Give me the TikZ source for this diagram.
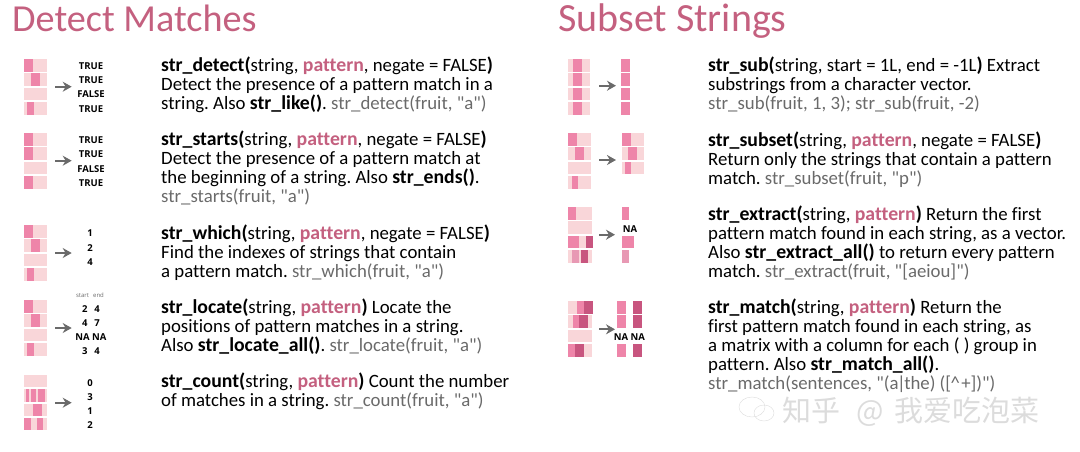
\documentclass[tikz,border=0pt]{standalone}
\usepackage{fontspec}
\usepackage{xcolor}
\newfontfamily\bodyfont{Carlito}[Ligatures=NoCommon,BoldFeatures={Scale=1.05}]
\newfontfamily\tagfont{Open Sans}
\newfontfamily\cjkfont{Noto Sans CJK SC}
\usetikzlibrary{shapes.geometric,arrows.meta}
\frenchspacing
\definecolor{titlepink}{HTML}{C4607F}
\definecolor{tilelight}{HTML}{F9D6D9}
\definecolor{tilepink}{HTML}{EE85A9}
\definecolor{tilemid}{HTML}{E899B4}
\definecolor{tiledark}{HTML}{C8557F}
\definecolor{exgray}{HTML}{6A6A6A}
\definecolor{markgray}{HTML}{DCDCDC}
\tikzset{
  heading/.style={anchor=base west,inner sep=0pt,text=titlepink},
  desc/.style={anchor=north west,align=left,inner sep=0pt,text=black,font=\bodyfont\fontsize{18.8}{19}\selectfont},
  tag/.style={inner sep=0pt,font=\tagfont\bfseries\fontsize{9.5}{9.5}\selectfont},
  taghead/.style={inner sep=0pt,text=exgray,font=\tagfont\fontsize{6}{6}\selectfont},
  flow/.style={-{Stealth[length=9pt,width=10pt]},draw=exgray,line width=2pt},
  bgtile/.style={fill=tilelight},
  hittile/.style={fill=tilepink},
  midtile/.style={fill=tilemid},
  darktile/.style={fill=tiledark}
}
\newcommand{\pat}{\textcolor{titlepink}{\textbf{pattern}}}
\newcommand{\ex}[1]{\textcolor{exgray}{#1}}
\newcommand{\tiles}[4][hittile]{\foreach \r/\a/\b in {#4} \fill[#1] (#2+\a,#3+14.4*\r) rectangle (#2+\b,#3+14.4*\r+12.5);}
\newcommand{\bgrows}[3]{\tiles[bgtile]{#1}{#2}{0/0/#3,1/0/#3,2/0/#3,3/0/#3}}

\begin{document}
\begin{tikzpicture}[x=1pt,y=-1pt,>=stealth]
    \useasboundingbox (0,0) rectangle (1080,451);

    \node[heading,font=\bodyfont\fontsize{38.2}{38}\selectfont] (detect) at (12,31) {Detect Matches};
    \node[heading,font=\bodyfont\fontsize{40}{40}\selectfont] (subset) at (558,31) {Subset Strings};

    % left tiles
    \bgrows{23.7}{59}{23.3}
    \tiles{23.7}{59}{0/0/9.3,1/7/16.3,3/3.6/10.3}
    \bgrows{23.7}{133}{23.3}
    \tiles{23.7}{133}{0/0/9.3,1/0/9.3,3/0/9.3}
    \bgrows{23.7}{225}{23.3}
    \tiles{23.7}{225}{0/0/9.3,1/7/16.3,3/3.6/10.3}
    \bgrows{23.7}{300}{23.3}
    \tiles{23.7}{300}{0/0/9.3,1/7/16.3,3/3.6/10.3}
    \bgrows{23.7}{374.7}{23.3}
    \tiles{23.7}{374.7}{1/2.3/5.6,1/7.6/12,1/14.3/21,2/9.3/18.3,3/0.3/7,3/13/19.7}

    % right tiles
    \bgrows{568.3}{59}{22}
    \tiles{568.3}{59}{0/4.7/14,1/4.7/14,2/4.7/14,3/4.7/14}
    \tiles{621.3}{59}{0/0/9,1/0/9,2/0/9,3/0/9}
    \bgrows{568.3}{133}{22.7}
    \tiles{568.3}{133}{0/0/9,1/7/16,3/3.7/9.7}
    \tiles[bgtile]{622}{133}{0/0/22,1/0/22,2/0/22}
    \tiles{622}{133}{0/0/9,1/6.3/15.3,2/3/9}
    \bgrows{568.3}{207}{24}
    \tiles{568.3}{207}{0/0/7.3,2/0/10.7}
    \tiles[midtile]{568.3}{207}{3/3.7/10.7}
    \tiles[darktile]{568.3}{207}{2/17.7/24.3,3/13/20}
    \tiles{621.7}{207}{0/0/7.3,2/0/12.3}
    \tiles[midtile]{621.7}{207}{3/0/7.3}
    \bgrows{568.3}{301}{24}
    \tiles{568.3}{301}{0/8.3/15.7,1/4.3/11,3/0/6.7}
    \tiles[darktile]{568.3}{301}{0/15.7/24.3,1/11/19.7,3/6.7/15.3}
    \tiles{616.7}{301}{0/0/9,1/0/9,3/0/9}
    \tiles[darktile]{632.7}{301}{0/0/9,1/0/9,3/0/9}

    % arrows
    \foreach \nm/\xa/\xb/\yy in {da/55/71.7/86.7,db/55/71.7/160.7,dc/55/71.7/253,dd/55/71.7/328,de/55/71.7/402.7,sa/599.3/616/85.7,sb/599.3/616/160,sc/599/615/234.7,sd/599/615/329.3}{
        \coordinate (\nm from) at (\xa,\yy);
        \coordinate (\nm to) at (\xb,\yy);
        \draw[flow] (\nm from) -- (\nm to);
    }

    % outputs
    \node[tag] (ta1) at (91,66) {TRUE};
    \node[tag] (ta2) at (91,80) {TRUE};
    \node[tag] (ta3) at (91,94.3) {FALSE};
    \node[tag] (ta4) at (91,109) {TRUE};
    \node[tag] (tb1) at (91,140) {TRUE};
    \node[tag] (tb2) at (91,154.3) {TRUE};
    \node[tag] (tb3) at (91,168.7) {FALSE};
    \node[tag] (tb4) at (91,183) {TRUE};
    \node[tag] (w1) at (90,233) {1};
    \node[tag] (w2) at (90,247.7) {2};
    \node[tag] (w3) at (90,262) {4};
    \node[taghead] (lstart) at (82.5,295.7) {start};
    \node[taghead] (lend) at (98.5,295.7) {end};
    \node[tag] (l1) at (91,309) {2\hspace{7pt}4};
    \node[tag] (l2) at (91,323) {4\hspace{7pt}7};
    \node[tag] (l3) at (91,337) {NA NA};
    \node[tag] (l4) at (91,350.7) {3\hspace{7pt}4};
    \node[tag] (c1) at (90,382.7) {0};
    \node[tag] (c2) at (90,397) {3};
    \node[tag] (c3) at (90,411) {1};
    \node[tag] (c4) at (90,425) {2};
    \node[tag] (ena) at (630,229) {NA};
    \node[tag] (mna) at (629.5,337) {NA NA};

    % descriptions
    \node[desc] (str1) at (161,57) {\textbf{str\_detect(}string, \pat, negate = FALSE\textbf{)}\\Detect the presence of a pattern match in a\\string. Also \textbf{str\_like()}. \ex{str\_detect(fruit, "a")}};
    \node[desc] (str2) at (161,131) {\textbf{str\_starts(}string, \pat, negate = FALSE\textbf{)}\\Detect the presence of a pattern match at\\the beginning of a string. Also \textbf{str\_ends()}.\\\ex{str\_starts(fruit, "a")}};
    \node[desc] (str3) at (161,225) {\textbf{str\_which(}string, \pat, negate = FALSE\textbf{)}\\Find the indexes of strings that contain\\a pattern match. \ex{str\_which(fruit, "a")}};
    \node[desc] (str4) at (161,299) {\textbf{str\_locate(}string, \pat\textbf{)} Locate the\\positions of pattern matches in a string.\\Also \textbf{str\_locate\_all()}. \ex{str\_locate(fruit, "a")}};
    \node[desc] (str5) at (161,373) {\textbf{str\_count(}string, \pat\textbf{)} Count the number\\of matches in a string. \ex{str\_count(fruit, "a")}};
    \node[desc] (sub1) at (708,57) {\textbf{str\_sub(}string, start = 1L, end = -1L\textbf{)} Extract\\substrings from a character vector.\\\ex{str\_sub(fruit, 1, 3); str\_sub(fruit, -2)}};
    \node[desc] (sub2) at (708,132) {\textbf{str\_subset(}string, \pat, negate = FALSE\textbf{)}\\Return only the strings that contain a pattern\\match. \ex{str\_subset(fruit, "p")}};
    \node[desc] (sub3) at (708,206) {\textbf{str\_extract(}string, \pat\textbf{)} Return the first\\pattern match found in each string, as a vector.\\Also \textbf{str\_extract\_all()} to return every pattern\\match. \ex{str\_extract(fruit, "[aeiou]")}};
    \node[desc] (sub4) at (708,299) {\textbf{str\_match(}string, \pat\textbf{)} Return the\\first pattern match found in each string, as\\a matrix with a column for each ( ) group in\\pattern. Also \textbf{str\_match\_all()}.\\\ex{str\_match(sentences, "(a\kern-1.5pt|\kern-1.5pt the) ([\kern-.5pt\textasciicircum\kern-1pt\ \kern-2pt+])")}};

    % mark at the lower right
    \node[ellipse,draw=markgray,minimum width=26pt,minimum height=20pt,inner sep=0pt] (bubblea) at (752,407) {};
    \node[ellipse,draw=markgray,minimum width=20pt,minimum height=16pt,inner sep=0pt] (bubbleb) at (764,413) {};
    \node[anchor=west,inner sep=0pt,text=markgray,font=\cjkfont\fontsize{29}{29}\selectfont] (mark) at (782,412) {知乎\hspace{16pt}@\hspace{11pt}我爱吃泡菜};
\end{tikzpicture}
\end{document}
